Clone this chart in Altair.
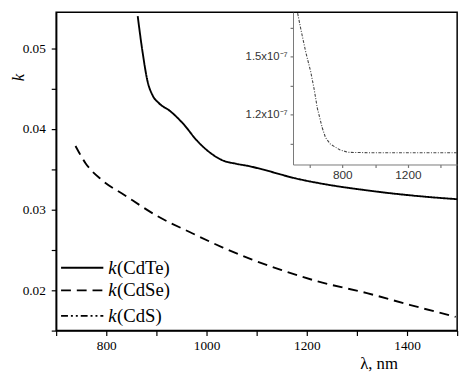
import altair as alt
import pandas as pd

# ---- data ----
cdte_x = [862.7, 872.5, 882.4, 892.2, 905.3, 928.0, 954.3, 980.4, 1006.5, 1032.7,
          1058.8, 1084.9, 1111.2, 1176.5, 1241.8, 1307.3, 1372.5, 1437.8, 1500.0]
cdte_k = [0.0540, 0.0495, 0.0459, 0.0442, 0.0432, 0.0422, 0.0406, 0.0386, 0.0371, 0.0361,
          0.0357, 0.0354, 0.0350, 0.0339, 0.0331, 0.0325, 0.0320, 0.0316, 0.0313]

cdse_x = [738.6, 758.2, 790.8, 836.7, 902.0, 967.3, 1032.7, 1091.0, 1150.0, 1222.0,
          1320.0, 1405.0, 1497.0]
cdse_k = [0.0379, 0.0358, 0.0337, 0.0318, 0.0292, 0.0272, 0.0253, 0.0238, 0.0225, 0.0211,
          0.01965, 0.0182, 0.0167]

cds_x = [528, 548, 578, 608, 628, 648, 678, 698, 728, 787, 837, 967, 1500]
cds_k = [1.725e-7, 1.640e-7, 1.522e-7, 1.421e-7, 1.335e-7, 1.234e-7, 1.132e-7, 1.081e-7,
         1.047e-7, 1.017e-7, 1.005e-7, 1.003e-7, 1.003e-7]

main_x_ticks = [700, 800, 900, 1000, 1100, 1200, 1300, 1400, 1500]
main_y_ticks = [0.015, 0.020, 0.025, 0.030, 0.035, 0.040, 0.045, 0.050]
inset_x_ticks = [600, 800, 1000, 1200, 1400]
inset_y_ticks = [1.05e-7, 1.2e-7, 1.35e-7, 1.5e-7, 1.65e-7]

series_names = ["CdTe", "CdSe"]
legend_labels = ["CdTe", "CdSe", "CdS"]

# ---- layout ----
W, H = 408, 324
SERIF = "Liberation Serif"
SANS = "Liberation Sans"

main_df = pd.concat([
    pd.DataFrame({"x": cdte_x, "k": cdte_k, "series": "CdTe"}),
    pd.DataFrame({"x": cdse_x, "k": cdse_k, "series": "CdSe"}),
])
inset_df = pd.DataFrame({"x": cds_x, "k": cds_k})

main = alt.Chart(main_df).mark_line(strokeWidth=1.9, color="black", interpolate="monotone").encode(
    x=alt.X("x:Q", scale=alt.Scale(domain=[700, 1500], nice=False, zero=False),
            axis=alt.Axis(values=main_x_ticks,
                          labelExpr="datum.value % 200 == 0 ? format(datum.value, 'd') : ''",
                          tickSize=5, labelPadding=3, labelFontSize=13.5, labelFont=SERIF,
                          title="λ, nm", titleFont=SERIF, titleFontSize=17, titleFontWeight="normal",
                          titleX=328, titleY=34, titleAlign="center", titleBaseline="middle")),
    y=alt.Y("k:Q", scale=alt.Scale(domain=[0.015, 0.0545], nice=False, zero=False),
            axis=alt.Axis(values=main_y_ticks,
                          labelExpr="abs(datum.value*100 - round(datum.value*100)) < 0.01 ? format(datum.value, '.2f') : ''",
                          tickSize=5, labelPadding=6, labelFontSize=13.5, labelFont=SERIF,
                          title="k", titleFont=SERIF, titleFontStyle="italic", titleFontSize=17,
                          titleFontWeight="normal", titleAngle=270, titleX=-38, titleY=66,
                          titleAlign="center", titleBaseline="middle")),
    strokeDash=alt.StrokeDash("series:N", scale=alt.Scale(domain=series_names, range=[[1, 0], [10, 6]]),
                              legend=None),
    detail="series:N",
)

inset = alt.Chart(inset_df).mark_line(strokeWidth=1.1, color="#444", strokeDash=[3, 1.5, 1, 1.5]).encode(
    x=alt.X("x:Q", scale=alt.Scale(domain=[500, 1500], range=[241, 408], nice=False, zero=False),
            axis=alt.Axis(orient="bottom", offset=-169, values=inset_x_ticks,
                          labelExpr="(datum.value == 800 || datum.value == 1200) ? format(datum.value, 'd') : ''",
                          tickSize=3, labelPadding=2, labelFont=SANS, labelFontSize=12,
                          labelColor="#333", domainColor="#777", tickColor="#777",
                          domainWidth=1, title=None)),
    y=alt.Y("k:Q", scale=alt.Scale(domain=[0.942e-7, 1.730e-7], range=[155, 0], nice=False, zero=False),
            axis=alt.Axis(orient="left", offset=-241, values=inset_y_ticks,
                          labelExpr="(round(datum.value*1e9) % 30 == 0) ? format(datum.value*1e7, '.1f') + 'x10⁻⁷' : ''",
                          tickSize=3, labelPadding=3, labelFont=SANS, labelFontSize=11.5,
                          labelColor="#333", domainColor="#777", tickColor="#777",
                          domainWidth=1, title=None)),
)

legend_y = [260, 283, 309]
legend_dash = [[1, 0], [10, 6], [7, 3, 2, 3, 2, 3]]
legend_layers = []
for lab, ly, dash in zip(legend_labels, legend_y, legend_dash):
    ldf = pd.DataFrame({"label": ["(" + lab + ")"]})
    legend_layers.append(
        alt.Chart(ldf).mark_rule(color="black", strokeWidth=1.9, strokeDash=dash).encode(
            x=alt.value(5), x2=alt.value(48), y=alt.value(ly)))
    legend_layers.append(
        alt.Chart(ldf).mark_text(align="left", baseline="middle", font=SERIF, fontSize=19,
                                 fontStyle="italic", color="black").encode(
            x=alt.value(53), y=alt.value(ly), text=alt.value("k")))
    legend_layers.append(
        alt.Chart(ldf).mark_text(align="left", baseline="middle", font=SERIF, fontSize=19,
                                 color="black").encode(
            x=alt.value(62), y=alt.value(ly), text=alt.Text("label:N")))

chart = alt.layer(main, inset, *legend_layers).resolve_scale(
    x="independent", y="independent"
).properties(
    width=W, height=H,
    autosize=alt.AutoSizeParams(type="none"),
    padding={"left": 49, "top": 1, "right": 9, "bottom": 46},
).configure_view(
    stroke="black", strokeWidth=1.5
).configure_axis(
    grid=False, domainColor="black", domainWidth=1.5, tickColor="black", tickWidth=1.2,
    labelColor="black", titleColor="black"
)

chart.save("out.html", embed_options={"renderer": "svg", "actions": False})
